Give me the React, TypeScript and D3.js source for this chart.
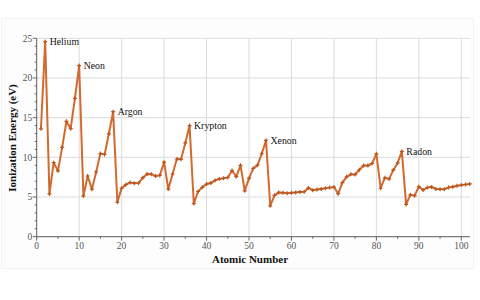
import React from "react";
import * as d3 from "d3";

const atomicNumbers: number[] = d3.range(1, 103);
const ionizationEnergy: number[] = [
  13.598, 24.587, 5.392, 9.323, 8.298, 11.26, 14.534, 13.618, 17.423, 21.565,
  5.139, 7.646, 5.986, 8.152, 10.487, 10.36, 12.968, 15.76, 4.341, 6.113,
  6.561, 6.828, 6.746, 6.767, 7.434, 7.902, 7.881, 7.64, 7.726, 9.394,
  5.999, 7.899, 9.789, 9.752, 11.814, 14.0, 4.177, 5.695, 6.217, 6.634,
  6.759, 7.092, 7.28, 7.361, 7.459, 8.337, 7.576, 8.994, 5.786, 7.344,
  8.608, 9.01, 10.451, 12.13, 3.894, 5.212, 5.577, 5.539, 5.473, 5.525,
  5.582, 5.644, 5.67, 6.15, 5.864, 5.939, 6.022, 6.108, 6.184, 6.254,
  5.426, 6.825, 7.55, 7.864, 7.834, 8.438, 8.967, 8.959, 9.226, 10.438,
  6.108, 7.417, 7.286, 8.417, 9.3, 10.749, 4.073, 5.278, 5.17, 6.307,
  5.89, 6.194, 6.266, 6.026, 5.974, 5.991, 6.198, 6.282, 6.42, 6.5,
  6.58, 6.65,
];
const nobleNumbers: number[] = [2, 10, 18, 36, 54, 86];
const nobleNames: string[] = ["Helium", "Neon", "Argon", "Krypton", "Xenon", "Radon"];
const xTicks: number[] = [0, 10, 20, 30, 40, 50, 60, 70, 80, 90, 100];
const yTicks: number[] = [0, 5, 10, 15, 20, 25];

const W = 480;
const H = 300;
const left = 36.7;
const right = 469.8;
const top = 38.3;
const bottom = 236.7;
const serif = "Liberation Serif";
const lineColor = "#d2692e";

export default function App() {
  const x = d3.scaleLinear().domain([0, 102]).range([left, right]);
  const y = d3.scaleLinear().domain([0, 25]).range([bottom, top]);
  const pts = atomicNumbers.map((n, i) => ({ n, v: ionizationEnergy[i] }));
  const line = d3
    .line<{ n: number; v: number }>()
    .x((d) => x(d.n))
    .y((d) => y(d.v));
  const xMinor = d3.range(5, 102, 10);
  const yMinor = d3.range(0, 25.01, 1).filter((v) => v % 5 !== 0);
  const ts = { fontFamily: serif };

  return (
    <svg
      width={W}
      height={H}
      style={{ position: "absolute", left: 0, top: 0, background: "#fff", fontFamily: serif }}
    >
      <rect x={1.5} y={18.5} width={472} height={250} fill="#fdfdfd" stroke="#f3f3f3" />
      <rect x={left} y={top} width={right - left} height={bottom - top} fill="#fff" />
      {xTicks.map((t) => (
        <line key={"gx" + t} x1={x(t)} x2={x(t)} y1={top} y2={bottom} stroke="#dcdcdc" strokeWidth={1} />
      ))}
      {yTicks.map((t) => (
        <line key={"gy" + t} x1={left} x2={right} y1={y(t)} y2={y(t)} stroke="#dcdcdc" strokeWidth={1} />
      ))}
      <line x1={left} x2={left} y1={top} y2={bottom} stroke="#666" strokeWidth={1} />
      <line x1={left} x2={right} y1={bottom} y2={bottom} stroke="#666" strokeWidth={1} />
      {xTicks.map((t) => (
        <g key={"xt" + t}>
          <line x1={x(t)} x2={x(t)} y1={bottom} y2={bottom + 4} stroke="#666" />
          <text x={x(t)} y={bottom + 12} textAnchor="middle" fontSize={9.5} fill="#555" style={ts}>
            {t}
          </text>
        </g>
      ))}
      {xMinor.map((t) => (
        <line key={"xm" + t} x1={x(t)} x2={x(t)} y1={bottom} y2={bottom + 2} stroke="#666" />
      ))}
      {yTicks.map((t) => (
        <g key={"yt" + t}>
          <line x1={left - 4} x2={left} y1={y(t)} y2={y(t)} stroke="#666" />
          <text x={left - 4.5} y={y(t) + 3.2} textAnchor="end" fontSize={9.5} fill="#555" style={ts}>
            {t}
          </text>
        </g>
      ))}
      {yMinor.map((t) => (
        <line key={"ym" + t} x1={left - 2} x2={left} y1={y(t)} y2={y(t)} stroke="#666" />
      ))}
      <path d={line(pts) || ""} fill="none" stroke={lineColor} strokeWidth={2} strokeLinejoin="round" />
      {pts.map((p) => (
        <path
          key={"m" + p.n}
          d={`M${x(p.n) - 2},${y(p.v)}h4M${x(p.n)},${y(p.v) - 2}v4`}
          stroke="#b8561f"
          strokeWidth={1.2}
        />
      ))}
      {nobleNumbers.map((n, i) => (
        <text
          key={"lab" + n}
          x={x(n) + 4.5}
          y={y(ionizationEnergy[n - 1]) + 3.5}
          fontSize={9.8}
          fill="#111"
          style={ts}
        >
          {nobleNames[i]}
        </text>
      ))}
      <text x={250} y={263} textAnchor="middle" fontSize={11} fontWeight="bold" fill="#111" style={ts}>
        Atomic Number
      </text>
      <text
        transform={`translate(15.5,138) rotate(-90)`}
        textAnchor="middle"
        fontSize={11}
        fontWeight="bold"
        fill="#111"
        style={ts}
      >
        Ionization Energy (eV)
      </text>
    </svg>
  );
}
